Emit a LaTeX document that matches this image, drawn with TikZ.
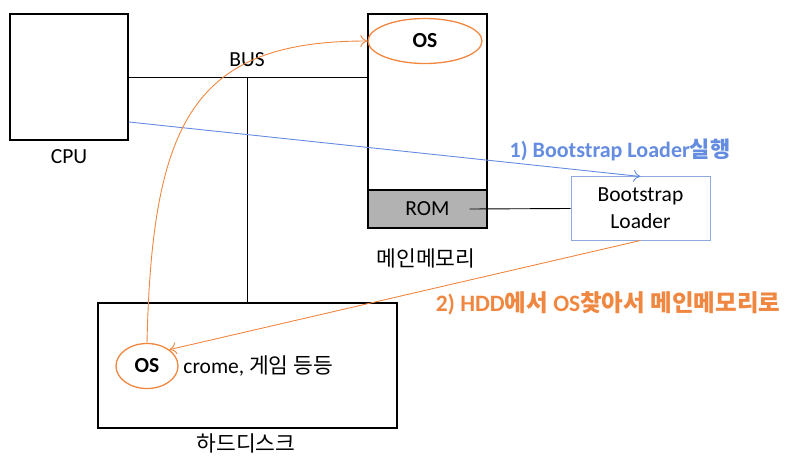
\documentclass[tikz,border=0pt]{standalone}
\usepackage{fontspec}
\setmainfont{Carlito}
\newfontfamily\kr{Noto Sans CJK KR}
\usetikzlibrary{shapes.geometric,positioning,arrows.meta}
\usepackage{xcolor}
\definecolor{loadblue}{RGB}{100,140,225}
\definecolor{boxblue}{RGB}{143,170,220}
\definecolor{osorange}{RGB}{240,135,65}
\definecolor{romgray}{RGB}{178,178,178}

\begin{document}
\begin{tikzpicture}[x=1pt,y=-1pt,>={To[length=7pt,width=12pt]},line width=0.9pt,
    font=\fontsize{21.5}{24}\selectfont,
    hw/.style={draw,line width=1.3pt,minimum width=#1},
    os/.style={ellipse,draw=osorange,line width=1.3pt,minimum height=45,font=\fontsize{21.5}{24}\selectfont\bfseries}]
        \useasboundingbox (0,0) rectangle (800,465);
        \node[hw=118,minimum height=126](C) at (69,77){};
        \node[below=5pt of C]{CPU};
        \node[hw=119,minimum height=214](M) at (427.5,121){};
        \node[hw=119,minimum height=38,fill=romgray,anchor=south](R) at (M.south){ROM};
        \node(ML) at (426,258){\kr 메인메모리};
        \node[os,minimum width=114](O1) at (425,41){OS};
        \node(BUS) at (247,60){BUS};
        \node[draw=boxblue,line width=1pt,minimum width=139,minimum height=63,align=center,
            font=\fontsize{21.5}{27}\selectfont](BL) at (640.5,208.5){Bootstrap\\Loader};
        \node[hw=299,minimum height=125](H) at (247.5,365.5){};
        \node(HL) at (246,443){\kr 하드디스크};
        \node[os,minimum width=62](O2) at (147,366){OS};
        \node[right=1pt of O2]{crome, {\kr 게임\ 등등}};
        \node[text=loadblue,font=\fontsize{22}{24}\selectfont\bfseries](S1) at (620,150)
            {1) Bootstrap Loader{\kr 실행}};
        \node[text=osorange,font=\fontsize{23.5}{26}\selectfont\bfseries](S2) at (608,303)
            {2) HDD{\kr 에서} OS{\kr 찾아서 메인메모리로}};
        \draw (C.east) -- (C.east -| M.west);
        \draw (H.north) -- (H.north |- C.east);
        \draw ([xshift=42pt]R.center) -- (BL.west);
        \draw[loadblue,->] (C.-37) -- (BL.north);
        \draw[osorange,->] (BL.south) -- (O2.north east);
        \draw[osorange,->] (O2.north) .. controls +(5,-223) and +(-173,0) .. (O1.west);
\end{tikzpicture}
\end{document}
